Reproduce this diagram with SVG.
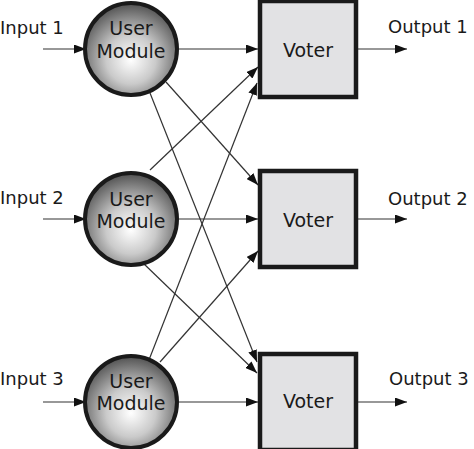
<svg xmlns="http://www.w3.org/2000/svg" width="474" height="449" viewBox="0 0 474 449">
<defs>
<radialGradient id="g" cx="0.5" cy="0.6" r="0.6" fx="0.5" fy="0.62">
<stop offset="0" stop-color="#ffffff"/>
<stop offset="0.45" stop-color="#cacaca"/>
<stop offset="1" stop-color="#505050"/>
</radialGradient>
<marker id="a" markerUnits="userSpaceOnUse" markerWidth="12" markerHeight="9" refX="12" refY="4.5" orient="auto">
<path d="M0,0 L12,4.5 L0,9 z" fill="#111"/>
</marker>
<style>
.c{fill:url(#g);stroke:#1a1a1a;stroke-width:4}
.v{fill:#e2e2e4;stroke:#1a1a1a;stroke-width:4.5}
.t{font-family:"DejaVu Sans","Liberation Sans",sans-serif;font-size:18px;fill:#1a1a1a}
.b{font-size:19px}
.m{text-anchor:middle}
.l{stroke:#333;stroke-width:1.2;fill:none;marker-end:url(#a)}
</style>
</defs>
<g id="connectors">
<line class="l" x1="43" y1="49" x2="86" y2="49"/>
<line class="l" x1="43" y1="219" x2="86" y2="219"/>
<line class="l" x1="43" y1="402" x2="86" y2="402"/>
<line class="l" x1="179" y1="49" x2="258" y2="49"/>
<line class="l" x1="179" y1="219" x2="258" y2="219"/>
<line class="l" x1="179" y1="402" x2="258" y2="402"/>
<line class="l" x1="357" y1="49" x2="407" y2="49"/>
<line class="l" x1="357" y1="219" x2="407" y2="219"/>
<line class="l" x1="357" y1="402" x2="407" y2="402"/>
<line class="l" x1="166" y1="82" x2="258" y2="185"/>
<line class="l" x1="150" y1="93" x2="257" y2="362"/>
<line class="l" x1="150" y1="170" x2="258" y2="67"/>
<line class="l" x1="143" y1="263" x2="257" y2="373"/>
<line class="l" x1="147" y1="365" x2="257" y2="83"/>
<line class="l" x1="160" y1="362" x2="258" y2="251"/>
</g>
<g id="input1"><text class="t" x="0" y="34">Input 1</text></g>
<g id="input2"><text class="t" x="0" y="204">Input 2</text></g>
<g id="input3"><text class="t" x="0" y="385">Input 3</text></g>
<g id="user1"><circle class="c" cx="131" cy="49" r="46"/><text class="t b m" x="131" y="35">User</text><text class="t b m" x="131" y="58">Module</text></g>
<g id="user2"><circle class="c" cx="131" cy="219" r="46"/><text class="t b m" x="131" y="206">User</text><text class="t b m" x="131" y="228">Module</text></g>
<g id="user3"><circle class="c" cx="131" cy="402" r="46"/><text class="t b m" x="131" y="388">User</text><text class="t b m" x="131" y="410">Module</text></g>
<g id="voter1"><rect class="v" x="260" y="1" width="96" height="96"/><text class="t b m" x="308" y="57">Voter</text></g>
<g id="voter2"><rect class="v" x="260" y="171" width="96" height="96"/><text class="t b m" x="308" y="227">Voter</text></g>
<g id="voter3"><rect class="v" x="260" y="354" width="96" height="96"/><text class="t b m" x="308" y="408">Voter</text></g>
<g id="output1"><text class="t" x="388" y="33">Output 1</text></g>
<g id="output2"><text class="t" x="388" y="205">Output 2</text></g>
<g id="output3"><text class="t" x="389" y="385">Output 3</text></g>
</svg>
